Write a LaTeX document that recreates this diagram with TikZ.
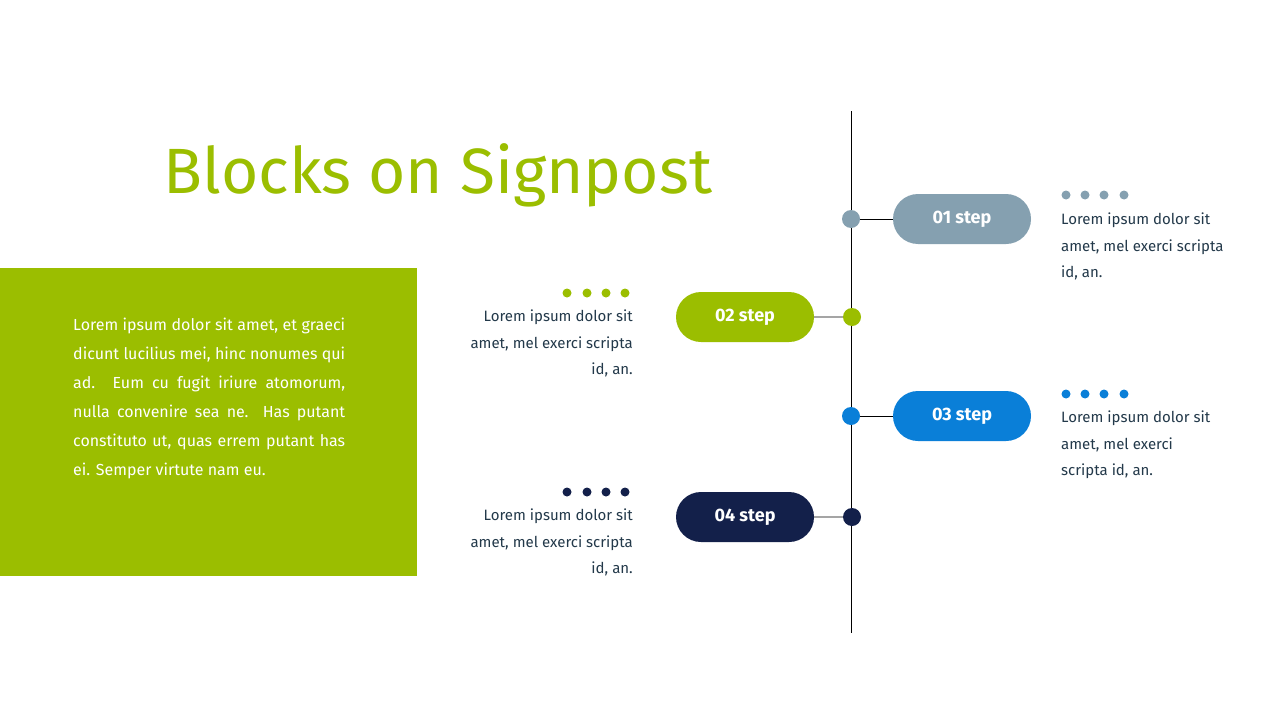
\documentclass[tikz,border=0pt]{standalone}
\usepackage{fontspec}
\setmainfont{Fira Sans}
\definecolor{grn}{HTML}{9BBE00}
\definecolor{gry}{HTML}{85A0B0}
\definecolor{blu}{HTML}{0A7FD8}
\definecolor{nav}{HTML}{13204A}
\definecolor{txt}{HTML}{23394A}
\begin{document}
\begin{tikzpicture}[x=1pt,y=-1pt,
 pill/.style={rounded rectangle, minimum width=138pt, minimum height=50pt, text=white, font=\fontsize{18}{20}\selectfont\bfseries, inner sep=0pt},
 dot/.style={circle, minimum size=18pt, inner sep=0pt},
 sdot/.style={circle, minimum size=9pt, inner sep=0pt},
 body/.style={text=txt, font=\fontsize{15}{26.5}\selectfont, inner sep=0pt}]
\usetikzlibrary{shapes.misc}
\useasboundingbox (0,0) rectangle (1280,720);
\fill[white] (0,0) rectangle (1280,720);
\node[text=grn, font=\fontsize{64}{70}\selectfont] (title) at (438,175) {Blocks on Signpost};
\fill[grn] (0,268) rectangle (417,576);
\node[anchor=north west, text width=272pt, align=justify, text=white, font=\fontsize{16}{29}\selectfont, inner sep=0pt] (para) at (73,318)
 {Lorem ipsum dolor sit amet, et graeci dicunt lucilius mei, hinc nonumes qui ad. Eum cu fugit iriure atomorum, nulla convenire sea ne. Has putant constituto ut, quas errem putant has ei. Semper virtute nam eu.};
\coordinate (top) at (851,111); \coordinate (bot) at (851,633);
\draw[black, line width=0.8pt] (top) -- (bot);
% step 1
\node[pill, fill=gry] (p1) at (962,219) {01 step};
\node[dot, fill=gry] (d1) at (851,219) {};
\draw[line width=0.8pt] (d1) -- (p1);
\foreach \x [count=\i] in {1066,1085,1104,1124} \node[sdot, fill=gry] (a\i) at (\x,195) {};
\node[body, anchor=north west, align=left] (t1) at (1061,213) {Lorem ipsum dolor sit\\amet, mel exerci scripta\\id, an.};
% step 2
\node[pill, fill=grn] (p2) at (745,317) {02 step};
\node[dot, fill=grn] (d2) at (852,317) {};
\draw[line width=0.8pt] (d2) -- (p2);
\foreach \x [count=\i] in {567,587,606,625} \node[sdot, fill=grn] (b\i) at (\x,293) {};
\node[body, anchor=north east, align=right] (t2) at (633,310) {Lorem ipsum dolor sit\\amet, mel exerci scripta\\id, an.};
% step 3
\node[pill, fill=blu] (p3) at (962,416) {03 step};
\node[dot, fill=blu] (d3) at (851,416) {};
\draw[line width=0.8pt] (d3) -- (p3);
\foreach \x [count=\i] in {1066,1085,1104,1124} \node[sdot, fill=blu] (c\i) at (\x,394) {};
\node[body, anchor=north west, align=left] (t3) at (1061,411) {Lorem ipsum dolor sit\\amet, mel exerci\\scripta id, an.};
% step 4
\node[pill, fill=nav] (p4) at (745,517) {04 step};
\node[dot, fill=nav] (d4) at (852,517) {};
\draw[line width=0.8pt] (d4) -- (p4);
\foreach \x [count=\i] in {567,587,606,625} \node[sdot, fill=nav] (e\i) at (\x,492) {};
\node[body, anchor=north east, align=right] (t4) at (633,509) {Lorem ipsum dolor sit\\amet, mel exerci scripta\\id, an.};
\end{tikzpicture}
\end{document}
